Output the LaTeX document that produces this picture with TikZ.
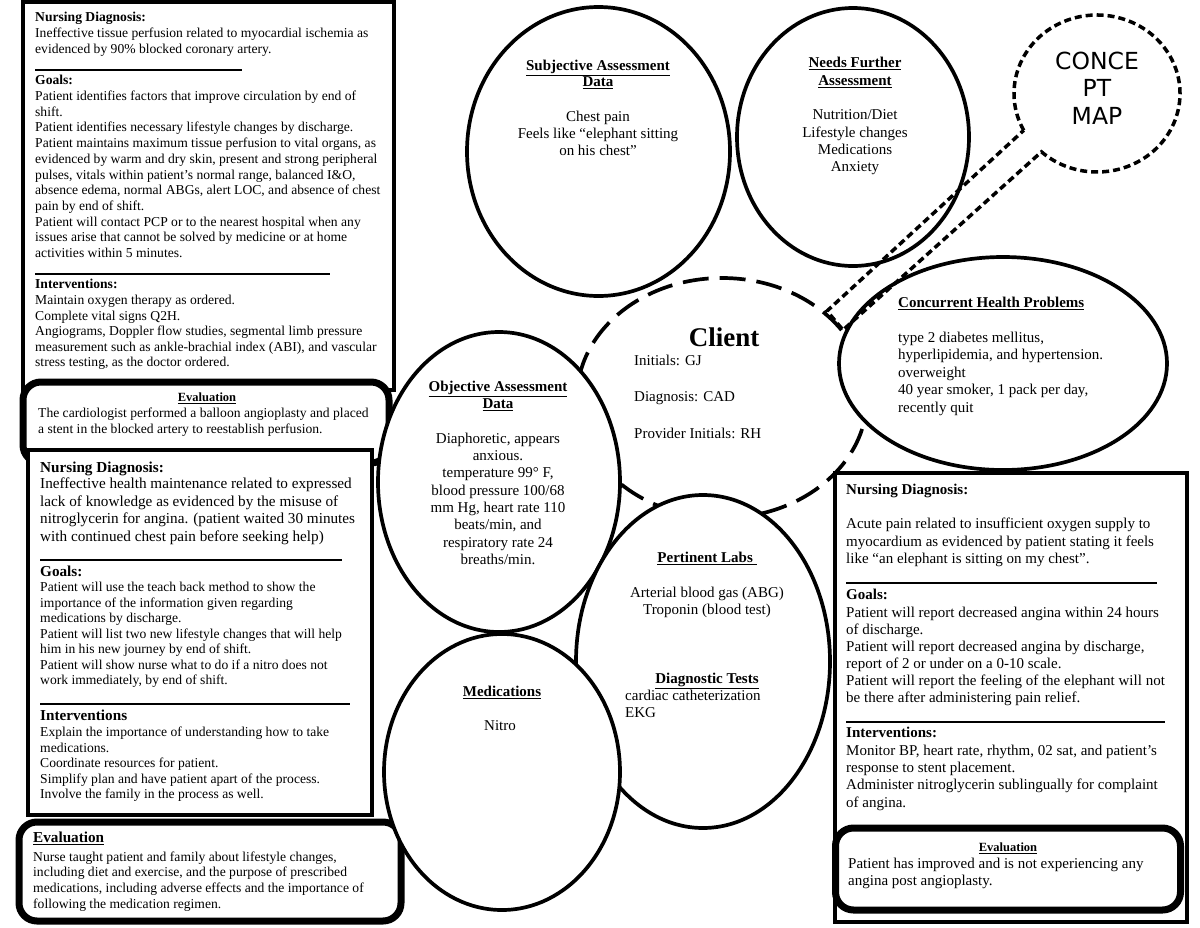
\documentclass[tikz,border=0pt]{standalone}
\usepackage{fontspec}
\setmainfont{Liberation Serif}
\newfontfamily\mapfont{DejaVu Sans}
\usepackage{tikz}
\usetikzlibrary{positioning, shapes.geometric, calc}
\newcommand{\fsz}[2]{\fontsize{#1}{#2}\selectfont}

\begin{document}
\begin{tikzpicture}[
  x=1pt, y=-1pt,
  bub/.style={ellipse, draw, line width=3.7pt, fill=white, inner sep=0pt},
  dbub/.style={bub, dash pattern=on 26pt off 11pt},
  sqbox/.style={draw, line width=4pt, fill=white},
  evbox/.style={draw, line width=7pt, rounded corners=18pt, fill=white},
  lt/.style={anchor=north west, align=left, inner sep=0pt},
  ct/.style={anchor=north, align=center, inner sep=0pt},
  hr/.style={line width=1.2pt}
]
\fill[white] (0,0) rectangle (1200,927);
\useasboundingbox (0,0) rectangle (1200,927);

% Left column --- first care plan
\draw[sqbox] (22.5,1.5) rectangle (394,390);
\node[lt, font=\fsz{13.6}{15.6}] (diagA) at (35,12.2) {%
  \textbf{Nursing Diagnosis:}\\
  Ineffective tissue perfusion related to myocardial ischemia as\\
  evidenced by 90\% blocked coronary artery.};
\draw[hr] (35,70) -- (242,70);
\node[lt, font=\fsz{13.6}{15.7}] (goalA) at (35,75.2) {%
  \textbf{Goals:}\\
  Patient identifies factors that improve circulation by end of\\
  shift.\\
  Patient identifies necessary lifestyle changes by discharge.\\
  Patient maintains maximum tissue perfusion to vital organs, as\\
  evidenced by warm and dry skin, present and strong peripheral\\
  pulses, vitals within patient’s normal range, balanced I\&O,\\
  absence edema, normal ABGs, alert LOC, and absence of chest\\
  pain by end of shift.\\
  Patient will contact PCP or to the nearest hospital when any\\
  issues arise that cannot be solved by medicine or at home\\
  activities within 5 minutes.};
\draw[hr] (35,274) -- (330,274);
\node[lt, font=\fsz{13.6}{15.6}] (intA) at (35,279.2) {%
  \textbf{Interventions:}\\
  Maintain oxygen therapy as ordered.\\
  Complete vital signs Q2H.\\
  Angiograms, Doppler flow studies, segmental limb pressure\\
  measurement such as ankle-brachial index (ABI), and vascular\\
  stress testing, as the doctor ordered.};

% first evaluation
\draw[evbox] (23,382) rectangle (389,463);
\node[ct, font=\bfseries\fsz{12.5}{15}] (evA) at (207,392.6) {\underline{Evaluation}};
\node[lt, font=\fsz{13.6}{15.2}] (evAtxt) at (38,408.2) {%
  The cardiologist performed a balloon angioplasty and placed\\
  a stent in the blocked artery to reestablish perfusion.};

% Left column --- second care plan
\draw[sqbox] (28,450) rectangle (372,815);
\node[lt, font=\bfseries\fsz{15.2}{17.5}] (diagBT) at (40,461.7) {Nursing Diagnosis:};
\node[lt, font=\fsz{15.2}{17.6}] (diagB) at (40,477.7) {%
  Ineffective health maintenance related to expressed\\
  lack of knowledge as evidenced by the misuse of\\
  nitroglycerin for angina. (patient waited 30 minutes\\
  with continued chest pain before seeking help)};
\draw[hr] (40,560) -- (342,560);
\node[lt, font=\bfseries\fsz{15.2}{17.5}] (goalBT) at (40,565.7) {Goals:};
\node[lt, font=\fsz{13.6}{15.5}] (goalB) at (40,582.2) {%
  Patient will use the teach back method to show the\\
  importance of the information given regarding\\
  medications by discharge.\\
  Patient will list two new lifestyle changes that will help\\
  him in his new journey by end of shift.\\
  Patient will show nurse what to do if a nitro does not\\
  work immediately, by end of shift.};
\draw[hr] (40,704) -- (350,704);
\node[lt, font=\bfseries\fsz{15.2}{17.5}] (intBT) at (40,709.7) {Interventions};
\node[lt, font=\fsz{13.6}{15.5}] (intB) at (40,727.2) {%
  Explain the importance of understanding how to take\\
  medications.\\
  Coordinate resources for patient.\\
  Simplify plan and have patient apart of the process.\\
  Involve the family in the process as well.};

% second evaluation
\draw[evbox] (19,822) rectangle (401,921);
\node[lt, font=\bfseries\fsz{15.2}{17.5}] (evB) at (33,831.7) {\underline{Evaluation}};
\node[lt, font=\fsz{13.6}{15.6}] (evBtxt) at (33,851.5) {%
  Nurse taught patient and family about lifestyle changes,\\
  including diet and exercise, and the purpose of prescribed\\
  medications, including adverse effects and the importance of\\
  following the medication regimen.};

% Client
\node[dbub, minimum width=290pt, minimum height=240pt] (client) at (722,398) {};
\node[ct, font=\bfseries\fsz{27}{30}] (clientT) at (724,327.5) {Client};
\node[lt, font=\fsz{15}{36.5}] (clientD) at (634,354.7) {%
  Initials: GJ\\
  Diagnosis: CAD\\
  Provider Initials: RH};

% Subjective assessment
\node[bub, minimum width=263pt, minimum height=289pt] (subj) at (598.5,151.5) {};
\node[ct, font=\bfseries\fsz{15}{16.5}] (subjT) at (598,59.7) {%
  \underline{Subjective Assessment}\\\underline{Data}};
\node[ct, font=\fsz{15}{17.3}] (subjD) at (598,110.7) {%
  Chest pain\\
  Feels like “elephant sitting\\
  on his chest”};

% Needs further assessment
\node[bub, minimum width=232pt, minimum height=258pt] (needs) at (853,137) {};
\node[ct, font=\bfseries\fsz{15}{18}] (needsT) at (855,56.7) {%
  \underline{Needs Further}\\\underline{Assessment}};
\node[ct, font=\fsz{15}{17.3}] (needsD) at (855,109.7) {%
  Nutrition/Diet\\
  Lifestyle changes\\
  Medications\\
  Anxiety};

% Objective assessment
\node[bub, minimum width=242pt, minimum height=300pt] (obj) at (499,482) {};
\node[ct, font=\bfseries\fsz{15}{17}] (objT) at (498,380.7) {%
  \underline{Objective Assessment}\\\underline{Data}};
\node[ct, font=\fsz{15}{17.3}] (objD) at (498,432.7) {%
  Diaphoretic, appears\\
  anxious.\\
  temperature 99° F,\\
  blood pressure 100/68\\
  mm Hg, heart rate 110\\
  beats/min, and\\
  respiratory rate 24\\
  breaths/min.};

% Labs and tests
\node[bub, minimum width=254pt, minimum height=333pt] (labs) at (703,661.5) {};
\node[ct, font=\bfseries\fsz{15}{17}] (labsT) at (707,551.7) {\underline{Pertinent Labs\ }};
\node[ct, font=\fsz{15}{17}] (labsD) at (707,586.7) {%
  Arterial blood gas (ABG)\\
  Troponin (blood test)};
\node[ct, font=\bfseries\fsz{15}{17}] (testT) at (707,672.7) {\underline{Diagnostic Tests}};
\node[lt, font=\fsz{15}{17}] (testD) at (625,689.7) {%
  cardiac catheterization\\
  EKG};

% Medications
\node[bub, minimum width=236pt, minimum height=276pt] (meds) at (502,772) {};
\node[ct, font=\bfseries\fsz{15}{17}] (medsT) at (502,685.7) {\underline{Medications}};
\node[ct, font=\fsz{15}{17}] (medsD) at (500,720.7) {Nitro};

% Concurrent health problems
\node[bub, minimum width=328pt, minimum height=213pt] (conc) at (1003,363.5) {};
\node[lt, font=\bfseries\fsz{15}{17.5}] (concT) at (898,296.7) {\underline{Concurrent Health Problems}};
\node[lt, font=\fsz{15}{17.5}] (concD) at (898,331.7) {%
  type 2 diabetes mellitus,\\
  hyperlipidemia, and hypertension.\\
  overweight\\
  40 year smoker, 1 pack per day,\\
  recently quit};

% Right column --- third care plan
\draw[sqbox] (834.5,472.5) rectangle (1187,921.5);
\node[lt, font=\bfseries\fsz{15}{17.5}] (diagCT) at (846,483.7) {Nursing Diagnosis:};
\node[lt, font=\fsz{15}{17.7}] (diagC) at (846,517.7) {%
  Acute pain related to insufficient oxygen supply to\\
  myocardium as evidenced by patient stating it feels\\
  like “an elephant is sitting on my chest”.};
\draw[hr] (846,583) -- (1157,583);
\node[lt, font=\bfseries\fsz{15}{17.5}] (goalCT) at (846,588.7) {Goals:};
\node[lt, font=\fsz{15}{17}] (goalC) at (846,606.7) {%
  Patient will report decreased angina within 24 hours\\
  of discharge.\\
  Patient will report decreased angina by discharge,\\
  report of 2 or under on a 0-10 scale.\\
  Patient will report the feeling of the elephant will not\\
  be there after administering pain relief.};
\draw[hr] (846,722) -- (1165,722);
\node[lt, font=\bfseries\fsz{15}{17.5}] (intCT) at (846,726.7) {Interventions:};
\node[lt, font=\fsz{15}{17.3}] (intC) at (846,744.7) {%
  Monitor BP, heart rate, rhythm, 02 sat, and patient’s\\
  response to stent placement.\\
  Administer nitroglycerin sublingually for complaint\\
  of angina.};

% third evaluation
\draw[evbox] (835.5,828) rectangle (1180.5,910);
\node[ct, font=\bfseries\fsz{12.5}{15}] (evC) at (1008,842.6) {\underline{Evaluation}};
\node[lt, font=\fsz{15}{17.3}] (evCtxt) at (848,857.7) {%
  Patient has improved and is not experiencing any\\
  angina post angioplasty.};

% Concept map callout
\coordinate (cmc) at (1097,93.5);
\coordinate (tipA) at (827,311);
\coordinate (tipB) at (843,330);
\node[ct, font=\mapfont\fsz{23.5}{27.5}] (cmap) at (1097,51.4) {CONCE\\PT\\MAP};
\draw[line width=3.5pt, dash pattern=on 7pt off 4pt]
  ($(cmc)+(152:83 and 78.5)$) arc[start angle=152, end angle=492, x radius=83, y radius=78.5]
  -- (tipB) -- (tipA) -- cycle;

\end{tikzpicture}
\end{document}
